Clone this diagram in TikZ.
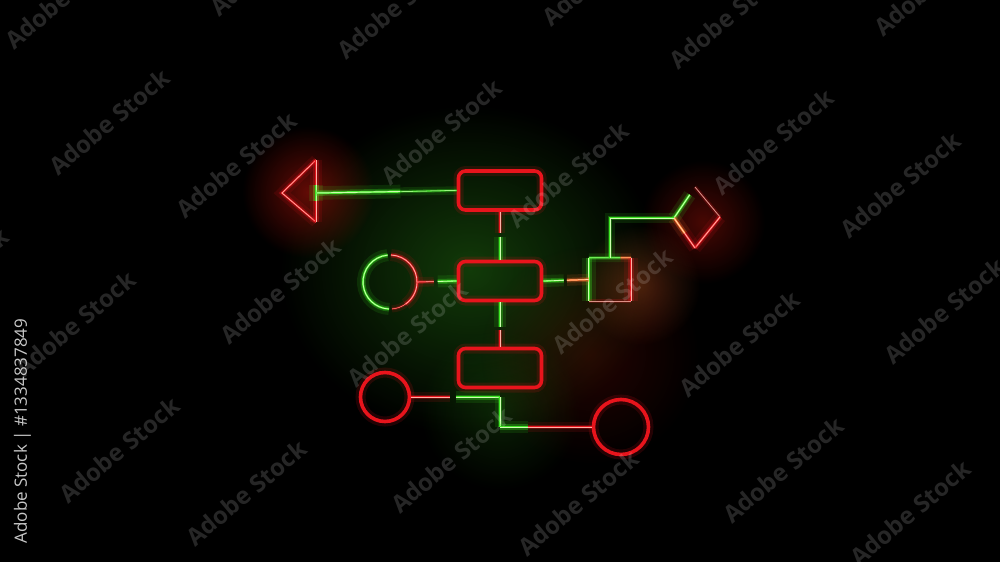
\documentclass[tikz,border=0pt]{standalone}
\usepackage{fontspec}
\newfontfamily\wmfont{Open Sans}
\usetikzlibrary{fadings,calc}
\definecolor{nred}{RGB}{232,20,28}
\definecolor{rcore}{RGB}{255,175,165}
\definecolor{ngreen}{RGB}{60,230,35}
\definecolor{gcore}{RGB}{205,255,175}
\definecolor{norange}{RGB}{255,110,45}
\definecolor{ocore}{RGB}{255,215,165}
\definecolor{hazegreen}{RGB}{40,130,20}
\definecolor{hazered}{RGB}{180,20,10}
\definecolor{idgray}{RGB}{200,200,200}
\tikzfading[name=fuzzy, inner color=transparent!0, outer color=transparent!100]
\tikzset{
  rl/.style={draw=nred, line width=#1,
    preaction={draw=nred, line width=#1*4+4, opacity=0.12},
    preaction={draw=nred, line width=#1*2+1, opacity=0.3},
    postaction={draw=rcore, line width=#1*0.4}},
  gl/.style={draw=ngreen, line width=#1,
    preaction={draw=ngreen, line width=#1*4+4, opacity=0.12},
    preaction={draw=ngreen, line width=#1*2+1, opacity=0.3},
    postaction={draw=gcore, line width=#1*0.4}},
  ol/.style={draw=norange, line width=#1,
    preaction={draw=norange, line width=#1*4+4, opacity=0.12},
    preaction={draw=norange, line width=#1*2+1, opacity=0.3},
    postaction={draw=ocore, line width=#1*0.4}},
  faint/.style={draw=rcore, line width=0.9, opacity=0.8,
    preaction={draw=nred, line width=4, opacity=0.2}},
  box/.style={rectangle, draw=nred, line width=3.6, rounded corners=7,
    minimum width=83, minimum height=39, inner sep=0,
    preaction={draw=nred, line width=10, opacity=0.15}},
  ring/.style={circle, draw=nred, line width=3.6, inner sep=0,
    preaction={draw=nred, line width=10, opacity=0.15}},
  hole/.style={circle, inner sep=0},
  wm/.style={font=\wmfont\bfseries\fontsize{24}{24}\selectfont, text=white,
    opacity=0.15, rotate=40, inner sep=0},
}
\begin{document}
\begin{tikzpicture}[x=1pt,y=-1pt]
\fill[black] (0,0) rectangle (1000,562);
\useasboundingbox (0,0) rectangle (1000,562);
% background haze
\fill[hazegreen, opacity=0.45, path fading=fuzzy] (470,270) ellipse [x radius=190, y radius=165];
\fill[hazegreen, opacity=0.25, path fading=fuzzy] (500,410) circle [radius=80];
\fill[hazered, opacity=0.55, path fading=fuzzy] (308,192) circle [radius=66];
\fill[hazered, opacity=0.4, path fading=fuzzy] (703,222) circle [radius=62];
\fill[norange, opacity=0.28, path fading=fuzzy] (640,285) circle [radius=60];
\fill[hazered, opacity=0.2, path fading=fuzzy] (590,355) circle [radius=110];
% nodes
\node[box] (b1) at (500,190.5) {};
\node[box] (b2) at (500,281) {};
\node[box] (b3) at (500,368) {};
\node[ring, minimum size=49] (c4) at (385,397) {};
\node[ring, minimum size=55] (c5) at (621,427) {};
\node[hole, minimum size=54] (c1) at (390,282) {};
\node[hole, rectangle, minimum width=42, minimum height=43] (sq) at (610,279.5) {};
\coordinate (ta) at (282,193);
\coordinate (tt) at (316,160);
\coordinate (tb) at (316,222);
\coordinate (tc) at (316,193);
\coordinate (dl) at (674,218);
\coordinate (dt) at (695,187);
\coordinate (dr) at (720,217);
\coordinate (db) at (695,248);
\coordinate (j1) at (b3.south |- c4.east);
\coordinate (j2) at (b3.south |- c5.west);
% triangle
\draw[rl=1.8] (tt) -- (ta) -- (tb);
\draw[rl=2.2] (tb) -- (tt);
% left middle circle
\draw[gl=2] (c1.center) ++(-95:27) arc[start angle=-95, end angle=-268, radius=27];
\draw[rl=2] (c1.center) ++(-88:27) arc[start angle=-88, end angle=55, radius=27];
\draw[rl=0.8] (c1.center) ++(55:27) arc[start angle=55, end angle=86, radius=27];
% square
\draw[gl=2.4] (sq.north west) -- (sq.south west);
\draw[gl=1.2] (sq.north west) -- ($(sq.north west)!0.75!(sq.north east)$);
\draw[ol=1.2] ($(sq.north west)!0.75!(sq.north east)$) -- (sq.north east);
\draw[rl=2.4] (sq.north east) -- (sq.south east);
\draw[faint] (sq.south west) -- (sq.south east);
% diamond
\draw[gl=2.2] (dl) -- ($(dl)!0.75!(dt)$);
\draw[faint] (dt) -- (dr);
\draw[rl=2.2] (dr) -- (db);
\draw[rl=2.2] (db) -- ($(db)!0.5!(dl)$);
\draw[ol=2.2] ($(db)!0.5!(dl)$) -- (dl);
% connectors
\draw[gl=2.4] ($(tc)+(0,-8)$) -- ($(tc)+(0,8)$);
\draw[gl=2.4] (tc) -- ($(tc)!0.6!(b1.west)$);
\draw[gl=1.1] ($(tc)!0.6!(b1.west)$) -- (b1.west);
\draw[rl=1.4] (b1.south) -- ($(b1.south)!0.45!(b2.north)$);
\draw[gl=2] ($(b1.south)!0.52!(b2.north)$) -- (b2.north);
\draw[rl=1.4] (c1.east) -- ($(c1.east)!0.42!(b2.west)$);
\draw[gl=2] ($(c1.east)!0.52!(b2.west)$) -- (b2.west);
\draw[gl=2] (b2.east) -- ($(b2.east)!0.45!(sq.west)$);
\draw[ol=1.8] ($(b2.east)!0.52!(sq.west)$) -- (sq.west);
\draw[gl=1.3] (sq.north) -- (sq.north |- dl) -- (dl);
\draw[gl=2] (b2.south) -- ($(b2.south)!0.55!(b3.north)$);
\draw[rl=1.4] ($(b2.south)!0.62!(b3.north)$) -- (b3.north);
\draw[rl=1.3] (c4.east) -- ($(c4.east)!0.44!(j1)$);
\draw[gl=2] ($(c4.east)!0.5!(j1)$) -- (j1);
\draw[gl=1.3] (j1) -- (j2);
\draw[gl=2.2] (j2) -- ($(j2)!0.3!(c5.west)$);
\draw[rl=1.3] ($(j2)!0.3!(c5.west)$) -- (c5.west);
% watermarks
\begin{scope}
\clip (0,0) rectangle (1000,562);
\foreach \wx/\wy [count=\n] in {65/-4, 270/-37, 397/6, 602/-27, 729/16, 934/-17,
  109/122, 236/165, 441/132, 568/175, 773/142, 900/185,
  -52/281, 75/324, 280/291, 407/334, 612/301, 739/344, 944/311,
  119/450, 246/493, 451/460, 578/503, 783/470, 910/513}{
   \node[wm] (wm\n) at (\wx,\wy) {Adobe Stock};
}
\end{scope}
\node[font=\wmfont\fontsize{17}{17}\selectfont, text=idgray, rotate=90, inner sep=0] (id) at (22.5,431) {Adobe Stock | \#1334837849};
\end{tikzpicture}
\end{document}
